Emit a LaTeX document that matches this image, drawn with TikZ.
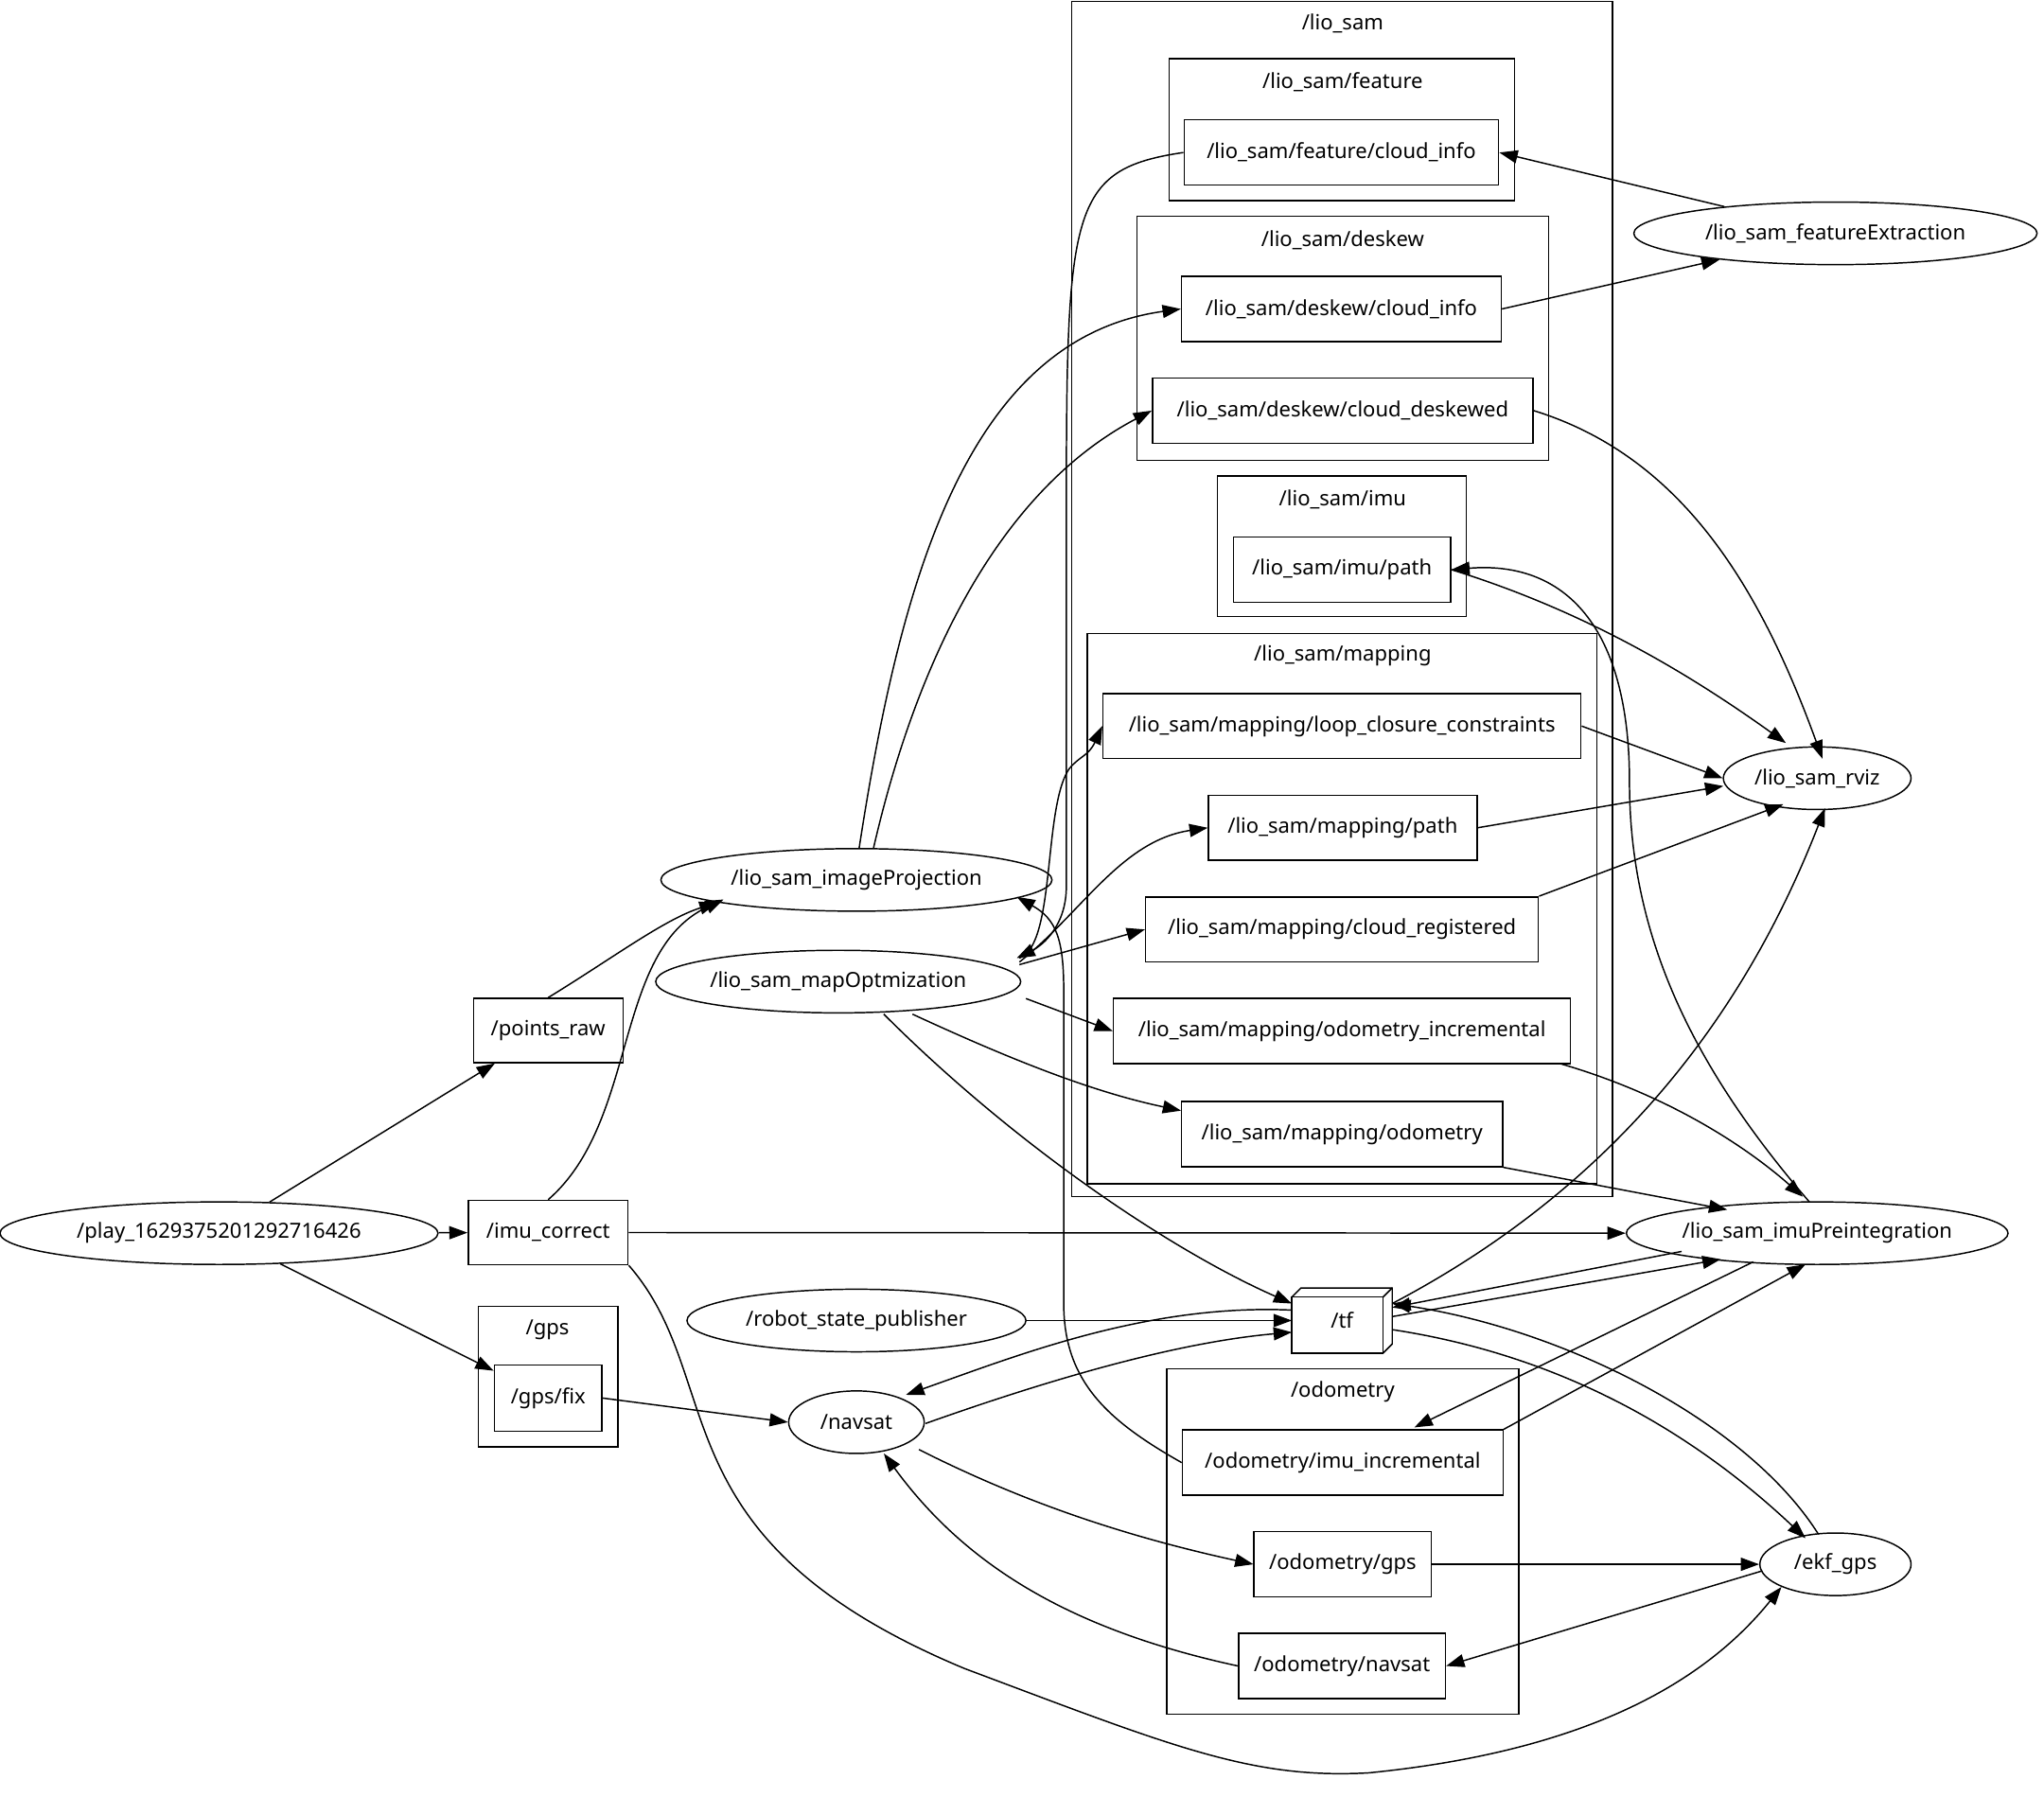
\documentclass[tikz,border=0pt]{standalone}
\usepackage{fontspec}
\setmainfont{Noto Sans}
\usetikzlibrary{arrows.meta,shapes.geometric}
\begin{document}
\begin{tikzpicture}[x=0.75pt,y=-0.75pt,line width=0.8pt,
  font=\fontsize{12}{14}\selectfont,
  bx/.style={draw,rectangle,inner sep=0pt},
  el/.style={draw,ellipse,inner sep=0pt},
  cl/.style={draw},
  a/.style={-{Triangle[length=10.5pt,width=7.5pt]}}]
\useasboundingbox (0,0) rectangle (1568,1378);
% clusters
\draw[cl] (822,1) rectangle (1237,918); \node (clliosam) at (1030,18) {/lio\_sam};
\draw[cl] (897,45) rectangle (1162,154); \node (clfeat) at (1030,63) {/lio\_sam/feature};
\draw[cl] (872,166) rectangle (1188,353); \node (cldesk) at (1030,184) {/lio\_sam/deskew};
\draw[cl] (934,365) rectangle (1125,473); \node (climu) at (1030,383) {/lio\_sam/imu};
\draw[cl] (834,486) rectangle (1225,908); \node (clmap) at (1030,503) {/lio\_sam/mapping};
\draw[cl] (367,1002) rectangle (474,1110); \node (clgps) at (420,1020) {/gps};
\draw[cl] (895,1050) rectangle (1165,1315); \node (clodom) at (1030,1068) {/odometry};
% topic boxes
\node[bx,minimum width=181pt,minimum height=37.5pt] (fci) at (1029,117) {/lio\_sam/feature/cloud\_info};
\node[bx,minimum width=184pt,minimum height=37.5pt] (dci) at (1029,237) {/lio\_sam/deskew/cloud\_info};
\node[bx,minimum width=219pt,minimum height=37.5pt] (dcd) at (1030,315) {/lio\_sam/deskew/cloud\_deskewed};
\node[bx,minimum width=125pt,minimum height=37.5pt] (ipath) at (1029.5,437) {/lio\_sam/imu/path};
\node[bx,minimum width=275pt,minimum height=37.5pt] (lcc) at (1029.5,557) {/lio\_sam/mapping/loop\_closure\_constraints};
\node[bx,minimum width=154.5pt,minimum height=37.5pt] (mpath) at (1030,635) {/lio\_sam/mapping/path};
\node[bx,minimum width=226pt,minimum height=37.5pt] (creg) at (1029.5,713) {/lio\_sam/mapping/cloud\_registered};
\node[bx,minimum width=263pt,minimum height=37.5pt] (oinc) at (1029.5,791) {/lio\_sam/mapping/odometry\_incremental};
\node[bx,minimum width=185pt,minimum height=37.5pt] (modom) at (1029.5,870) {/lio\_sam/mapping/odometry};
\node[bx,minimum width=62pt,minimum height=38pt] (gfix) at (420.5,1072.5) {/gps/fix};
\node[bx,minimum width=184.5pt,minimum height=37.5pt] (iinc) at (1030,1122) {/odometry/imu\_incremental};
\node[bx,minimum width=102pt,minimum height=37.5pt] (ogps) at (1030,1200) {/odometry/gps};
\node[bx,minimum width=119pt,minimum height=37.5pt] (onav) at (1029.5,1278) {/odometry/navsat};
\node[bx,minimum width=86pt,minimum height=37pt] (praw) at (420.5,790.5) {/points\_raw};
\node[bx,minimum width=92pt,minimum height=37pt] (icor) at (420.5,945.5) {/imu\_correct};
\node[inner sep=0pt,minimum width=57.75pt,minimum height=37.5pt] (tf) at (1029.5,1013) {/tf};
\draw (991,995) rectangle (1061,1038);
\draw (991,995)--(998,988)--(1068,988)--(1068,1031)--(1061,1038);
\draw (1061,995)--(1068,988);
% ellipses
\node[el,minimum width=252pt,minimum height=36pt] (play) at (168,946) {/play\_1629375201292716426};
\node[el,minimum width=225pt,minimum height=36pt] (iproj) at (657,675) {/lio\_sam\_imageProjection};
\node[el,minimum width=210pt,minimum height=36pt] (mopt) at (643,753) {/lio\_sam\_mapOptmization};
\node[el,minimum width=195pt,minimum height=36pt] (rsp) at (657,1013) {/robot\_state\_publisher};
\node[el,minimum width=78pt,minimum height=36pt] (nav) at (657,1091) {/navsat};
\node[el,minimum width=232pt,minimum height=36pt] (fext) at (1408,179) {/lio\_sam\_featureExtraction};
\node[el,minimum width=108pt,minimum height=36pt] (rviz) at (1394,597) {/lio\_sam\_rviz};
\node[el,minimum width=216pt,minimum height=36pt] (ipre) at (1394,946) {/lio\_sam\_imuPreintegration};
\node[el,minimum width=87pt,minimum height=36pt] (ekf) at (1408,1200) {/ekf\_gps};
% edges
\draw[a] (play) -- (praw);
\draw[a] (play) -- (icor);
\draw[a] (play) -- (gfix);
\draw[a] (praw.north) .. controls (470,735) and (510,705) .. (iproj.south west);
\draw[a] (icor.north) .. controls (490,860) and (470,730) .. (555,690);
\draw[a] (icor.east) -- (ipre.west);
\draw[a] (icor.south east) .. controls (560,1060) and (500,1180) .. (740,1280) .. controls (900,1340) and (960,1365) .. (1050,1360) .. controls (1200,1345) and (1300,1300) .. (ekf.south west);
\draw[a] (gfix.east) -- (nav.west);
\draw[a] (659,651) .. controls (690,450) and (740,260) .. (dci.west);
\draw[a] (670,651) .. controls (700,520) and (760,380) .. (dcd.west);
\draw[a] (fci.west) .. controls (820,130) and (818,160) .. (818,400) -- (818,680) .. controls (818,710) and (800,725) .. (780,735);
\draw[a] (iinc.west) .. controls (850,1090) and (816,1060) .. (816,1000) -- (816,760) .. controls (816,720) and (810,705) .. (780,688);
\draw[a] (fext) -- (fci.east);
\draw[a] (dci.east) -- (fext);
\draw[a] (dcd.east) .. controls (1290,350) and (1350,450) .. (1398,582);
\draw[a] (ipath.east) .. controls (1220,470) and (1300,520) .. (1370,570);
\draw[a] (lcc.east) -- (rviz.west);
\draw[a] (mpath.east) -- (1322,603);
\draw[a] (creg.north east) -- (1368,617);
\draw[a] (1388,922) .. controls (1300,820) and (1250,720) .. (1250,600) .. controls (1250,480) and (1200,430) .. (ipath.east);
\draw[a] (1068,1000) .. controls (1220,920) and (1330,800) .. (1400,620);
\draw[a] (782,735) .. controls (810,725) and (800,620) .. (820,590) .. controls (828,580) and (835,580) .. (lcc.west);
\draw[a] (782,738) .. controls (830,700) and (860,645) .. (mpath.west);
\draw[a] (782,740) -- (creg.west);
\draw[a] (787,766) -- (oinc.west);
\draw[a] (700,778) .. controls (780,815) and (840,838) .. (906,852);
\draw[a] (678,778) .. controls (780,880) and (900,960) .. (991,1000);
\draw[a] (1197,816) .. controls (1280,840) and (1340,880) .. (1383,918);
\draw[a] (modom.south east) -- (1325,928);
\draw[a] (1290,960) -- (1068,1003);
\draw[a] (1068,1010) -- (1320,966);
\draw[a] (1345,968) -- (1085,1095);
\draw[a] (iinc.north east) -- (1385,970);
\draw[a] (rsp.east) -- (991,1013);
\draw[a] (991,1005) .. controls (880,1000) and (780,1040) .. (695,1070);
\draw[a] (710,1092) .. controls (800,1060) and (900,1030) .. (991,1022);
\draw[a] (705,1112) .. controls (790,1155) and (870,1180) .. (ogps.west);
\draw[a] (onav.west) .. controls (820,1250) and (740,1200) .. (678,1115);
\draw[a] (ogps.east) -- (ekf.west);
\draw[a] (1352,1205) -- (onav.east);
\draw[a] (1068,1020) .. controls (1200,1040) and (1300,1100) .. (1385,1180);
\draw[a] (1395,1177) .. controls (1340,1090) and (1200,1020) .. (1068,1000);
\end{tikzpicture}
\end{document}
